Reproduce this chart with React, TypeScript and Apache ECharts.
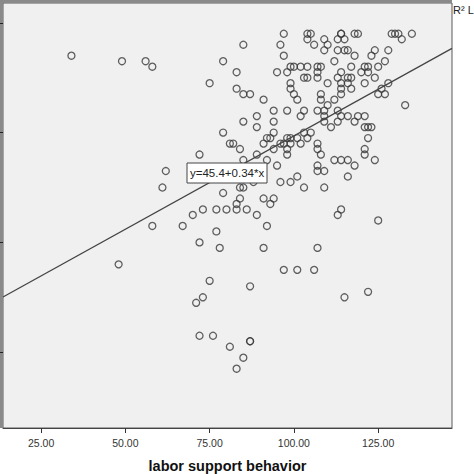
import React, { useEffect, useRef } from "react";
import * as echarts from "echarts";

// Points grouped by y value (rows); each row lists x values (labor support behavior)
const rowYs: number[] = [98, 97, 96, 95, 94, 93, 92, 91, 90, 89, 88, 87, 86, 85, 84, 83, 82, 81, 80, 79, 78, 77, 76, 75, 74, 73, 72, 71, 70, 69, 68, 67, 66, 65, 64, 63, 62, 60, 59, 56, 55, 53, 52, 51, 50, 49, 43, 42, 41, 39, 37];
const rowXs: number[][] = [
  [97, 104, 105, 114, 114, 118, 119, 129, 130, 131, 135],
  [104, 109, 113, 115, 132],
  [85, 96, 106, 110],
  [109, 113, 115, 116, 124, 128],
  [34, 97, 118, 123],
  [49, 56, 79, 112, 127],
  [58, 99, 100, 102, 104, 107, 108, 117, 121, 122, 125],
  [83, 95, 98, 107, 114, 120, 122],
  [103, 104, 107, 113, 116, 117, 124],
  [75, 99, 110, 114, 116, 121, 128],
  [83, 99, 114, 117, 126],
  [85, 87, 100, 108, 114, 125, 127],
  [91, 101, 108, 112],
  [110, 133],
  [94, 98, 103, 107, 109, 113],
  [89, 102, 109, 114, 116, 119, 121],
  [85, 94, 109, 113, 118],
  [89, 111, 121, 122, 123],
  [79, 94, 103, 105],
  [92, 93, 98, 99, 101, 104, 122],
  [81, 82, 91, 96, 97, 99, 102, 107],
  [84, 94, 98, 107, 121],
  [72, 89, 98, 108, 121],
  [85, 92, 112, 114, 116, 124],
  [95, 107, 118],
  [62, 107, 109],
  [101, 116],
  [88, 96, 99],
  [61, 84, 85, 103, 109],
  [79],
  [84, 91, 94],
  [83, 93],
  [73, 77, 80, 83, 86, 114],
  [70, 89, 113],
  [125],
  [58, 67, 92],
  [77],
  [72],
  [78, 91, 107],
  [48],
  [97, 101, 106],
  [75],
  [87],
  [122],
  [73, 115],
  [71],
  [72, 76],
  [87, 87],
  [81],
  [85],
  [83],
];

const xTicks: number[] = [25, 50, 75, 100, 125];
const yTicks: number[] = [40, 60, 80, 100];
const xMin = 13.7;
const xMax = 146.9;
const yMin = 26.2;
const yMax = 103.6;
const fitIntercept = 45.4;
const fitSlope = 0.34;
const fitLabel = "y=45.4+0.34*x";
const xAxisTitle = "labor support behavior";

export default function App() {
  const ref = useRef<HTMLDivElement>(null);
  useEffect(() => {
    if (!ref.current) return;
    const chart = echarts.init(ref.current, undefined, { renderer: "svg" });
    const points: number[][] = [];
    rowYs.forEach((y, i) => rowXs[i].forEach((x) => points.push([x, y])));
    const fitLine = [
      [xMin, fitIntercept + fitSlope * xMin],
      [xMax, fitIntercept + fitSlope * xMax],
    ];
    chart.setOption({
      animation: false,
      backgroundColor: "#ffffff",
      grid: {
        left: 3,
        right: 22,
        top: 3,
        bottom: 46,
        outerBoundsMode: "none",
        containLabel: false,
        show: true,
        backgroundColor: "#f0f0f0",
        borderColor: "#5a5a5a",
        borderWidth: 1,
      },
      xAxis: {
        type: "value",
        min: xMin,
        max: xMax,
        name: xAxisTitle,
        nameLocation: "middle",
        nameGap: 30,
        nameTextStyle: { fontFamily: "Liberation Sans", fontWeight: "bold", fontSize: 14.5, color: "#111" },
        axisLine: { show: true, lineStyle: { color: "#444", width: 1 } },
        axisTick: { show: true, customValues: xTicks, length: 5, lineStyle: { color: "#333" } },
        axisLabel: {
          show: true,
          customValues: xTicks,
          margin: 9,
          fontFamily: "Liberation Sans",
          fontSize: 10.5,
          color: "#333",
          formatter: (v: number) => v.toFixed(2),
        },
        splitLine: { show: false },
      },
      yAxis: {
        type: "value",
        min: yMin,
        max: yMax,
        z: 10,
        axisLine: { show: false },
        axisTick: { show: true, customValues: yTicks, length: 3, lineStyle: { color: "#222" } },
        axisLabel: { show: false },
        splitLine: { show: false },
      },
      graphic: [
        { type: "rect", z: 1, shape: { x: 0, y: 0, width: 3, height: 428 }, style: { fill: "#8a8a8a" } },
        { type: "rect", z: 1, shape: { x: 0, y: 0, width: 452, height: 3 }, style: { fill: "#8a8a8a" } },
        {
          type: "text",
          z: 20,
          x: 453,
          y: 4,
          style: { text: "R² L", fontFamily: "Liberation Sans", fontSize: 11, fill: "#222" },
        },
        {
          type: "rect",
          z: 50,
          shape: { x: 187, y: 163, width: 80, height: 20 },
          style: { fill: "#ffffff", stroke: "#444", lineWidth: 1 },
        },
        {
          type: "text",
          z: 51,
          x: 190,
          y: 173,
          style: {
            text: fitLabel,
            fontFamily: "Liberation Sans",
            fontSize: 11.5,
            fill: "#222",
            verticalAlign: "middle",
          },
        },
      ],
      series: [
        {
          type: "scatter",
          data: points,
          symbol: "circle",
          symbolSize: 7,
          itemStyle: { color: "rgba(0,0,0,0)", borderColor: "#3a3a3a", borderWidth: 1.3 },
          silent: true,
          z: 3,
        },
        {
          type: "line",
          data: fitLine,
          symbol: "none",
          lineStyle: { color: "#444", width: 1.3 },
          silent: true,
          z: 4,
        },
      ],
    });
    return () => chart.dispose();
  }, []);
  return (
    <div
      ref={ref}
      style={{ position: "absolute", left: 0, top: 0, width: 474, height: 474 }}
    />
  );
}
